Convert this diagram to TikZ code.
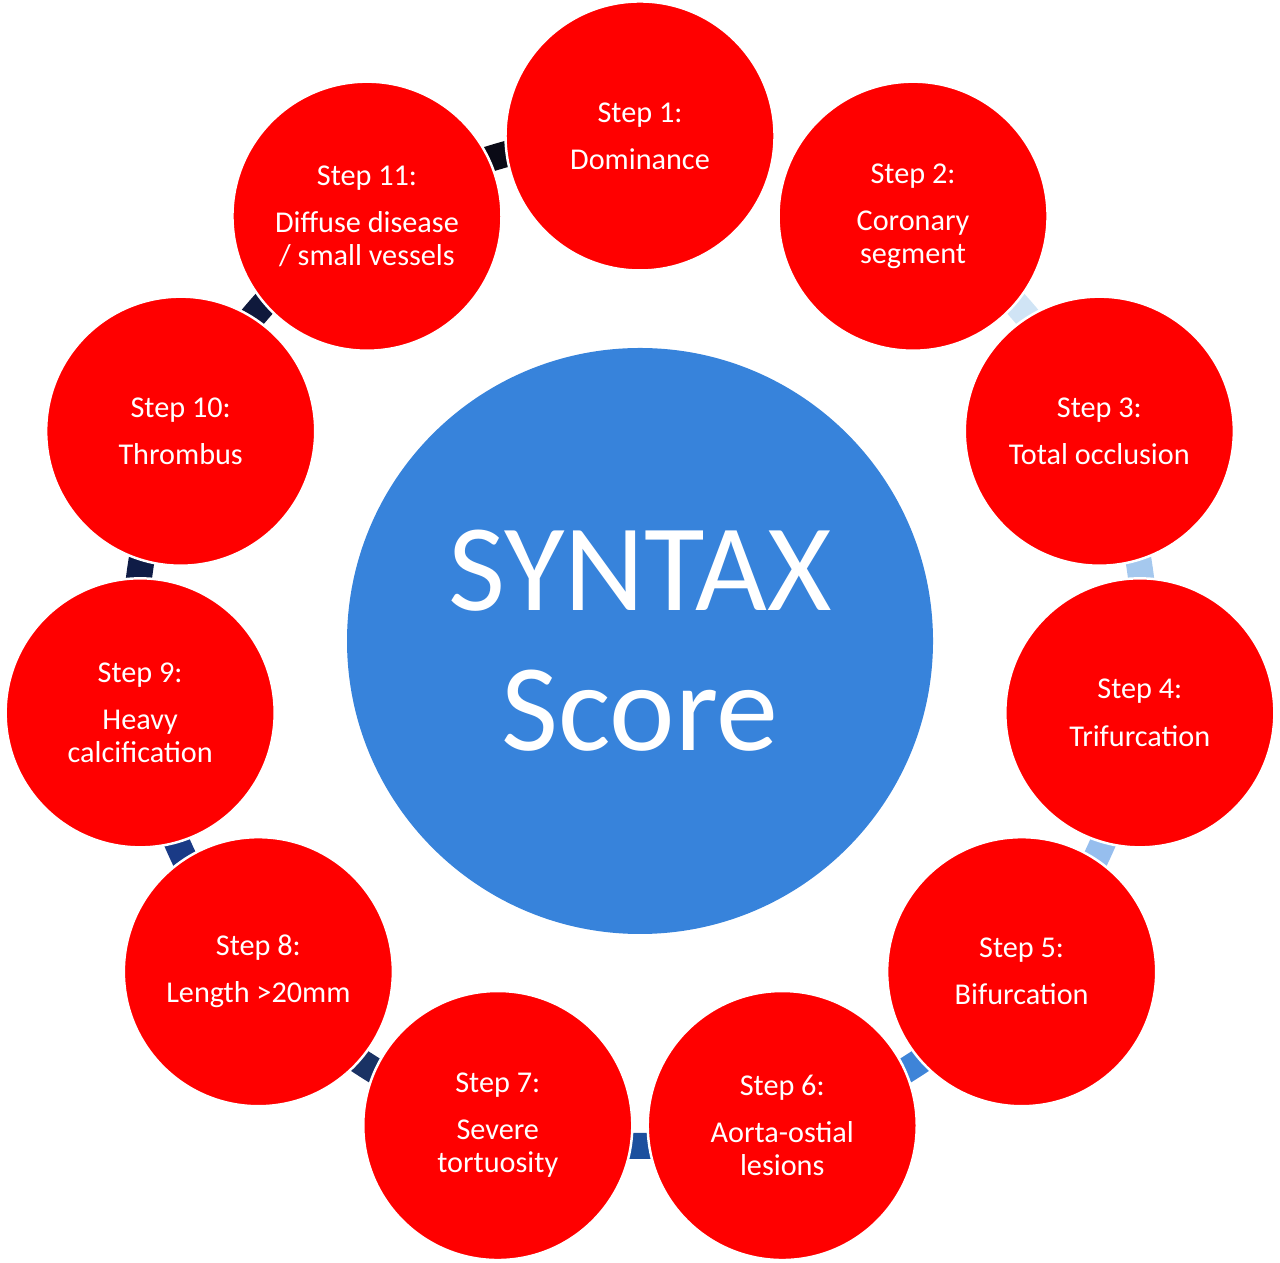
\documentclass[tikz,border=0pt]{standalone}
\usepackage{fontspec}
\setmainfont{Carlito}
\usepackage{tikz}
\usetikzlibrary{calc,backgrounds}
\definecolor{stepred}{RGB}{255,0,0}
\definecolor{scoreblue}{RGB}{55,131,219}
\definecolor{ringb}{RGB}{208,228,245}
\definecolor{ringc}{RGB}{165,200,238}
\definecolor{ringd}{RGB}{150,190,238}
\definecolor{ringe}{RGB}{62,132,216}
\definecolor{ringf}{RGB}{28,80,158}
\definecolor{ringg}{RGB}{26,50,100}
\definecolor{ringh}{RGB}{26,58,134}
\definecolor{ringi}{RGB}{15,28,70}
\definecolor{ringj}{RGB}{15,25,60}
\definecolor{ringk}{RGB}{10,10,22}

\begin{document}
\begin{tikzpicture}[
  stepnode/.style={circle, fill=stepred, draw=white, line width=0.7pt, minimum size=2.69cm, inner sep=0pt,
    align=center, text=white, font=\fontsize{8.6}{9.4}\selectfont},
  ringseg/.style={line width=0.26cm}]
\useasboundingbox (0,0) rectangle (12.8,12.62);
\def\RING{5.05};
\coordinate (c) at (6.4,6.21);
% centre
\node[circle, fill=scoreblue, minimum size=5.86cm, inner sep=0pt, align=center, text=white,
  font=\fontsize{35.3}{39.8}\selectfont] (score) at (c) {SYNTAX\\Score};
% steps round the ring
\node[stepnode] (s1) at ($(c)+(90:\RING)$) {Step 1:\\[4pt]Dominance};
\node[stepnode] (s2) at ($(c)+(57.27:\RING)$) {Step 2:\\[4pt]Coronary\\segment};
\node[stepnode] (s3) at ($(c)+(24.55:\RING)$) {Step 3:\\[4pt]Total occlusion};
\node[stepnode] (s4) at ($(c)+(-8.18:\RING)$) {Step 4:\\[4pt]Trifurcation};
\node[stepnode] (s5) at ($(c)+(-40.91:\RING)$) {Step 5:\\[4pt]Bifurcation};
\node[stepnode] (s6) at ($(c)+(-73.64:\RING)$) {Step 6:\\[4pt]Aorta-ostial\\lesions};
\node[stepnode] (s7) at ($(c)+(-106.36:\RING)$) {Step 7:\\[4pt]Severe\\tortuosity};
\node[stepnode] (s8) at ($(c)+(-139.09:\RING)$) {Step 8:\\[4pt]Length >20mm};
\node[stepnode] (s9) at ($(c)+(-171.82:\RING)$) {Step 9:\\[4pt]Heavy\\calcification};
\node[stepnode] (s10) at ($(c)+(155.45:\RING)$) {Step 10:\\[4pt]Thrombus};
\node[stepnode] (s11) at ($(c)+(122.73:\RING)$) {Step 11:\\[4pt]Diffuse disease\\/ small vessels};
% ring pieces between the steps
\begin{scope}[on background layer]
\draw[ringseg, ringb] (s2.center) arc[start angle=57.27, end angle=24.55, radius=\RING];
\draw[ringseg, ringc] (s3.center) arc[start angle=24.55, end angle=-8.18, radius=\RING];
\draw[ringseg, ringd] (s4.center) arc[start angle=-8.18, end angle=-40.91, radius=\RING];
\draw[ringseg, ringe] (s5.center) arc[start angle=-40.91, end angle=-73.64, radius=\RING];
\draw[ringseg, ringf] (s6.center) arc[start angle=-73.64, end angle=-106.36, radius=\RING];
\draw[ringseg, ringg] (s7.center) arc[start angle=-106.36, end angle=-139.09, radius=\RING];
\draw[ringseg, ringh] (s8.center) arc[start angle=-139.09, end angle=-171.82, radius=\RING];
\draw[ringseg, ringi] (s9.center) arc[start angle=-171.82, end angle=-204.55, radius=\RING];
\draw[ringseg, ringj] (s10.center) arc[start angle=155.45, end angle=122.73, radius=\RING];
\draw[ringseg, ringk] (s11.center) arc[start angle=122.73, end angle=90, radius=\RING];
\end{scope}
\end{tikzpicture}
\end{document}
